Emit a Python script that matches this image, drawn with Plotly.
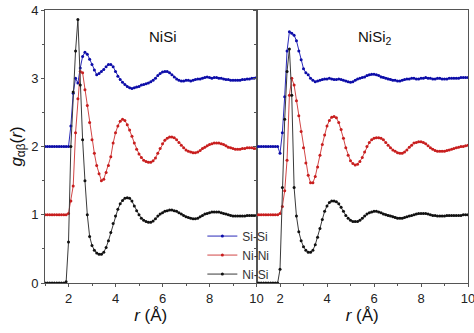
import numpy as np
import plotly.graph_objects as go
from plotly.subplots import make_subplots

# radial grid (Å)
r = np.round(np.arange(1.0, 10.0001, 0.1), 1)

series_names = ["Si-Si", "Ni-Ni", "Ni-Si"]
offsets = [2, 1, 0]

# ---- NiSi ----
nisi_sisi = [0,0,0,0,0,0,0,0,0,0,0,
    0.30,0.78,1.00,0.93,1.15,1.32,1.38,1.35,1.28,1.20,
    1.12,1.05,1.07,1.10,1.13,1.17,1.20,1.20,1.17,1.10,
    1.03,0.98,0.94,0.91,0.88,0.86,0.85,0.86,0.87,0.88,
    0.90,0.91,0.92,0.93,0.95,0.97,1.00,1.04,1.07,1.09,
    1.10,1.10,1.08,1.05,1.02,0.99,0.97,0.96,0.96,0.97,
    0.97,0.96,0.97,0.98,0.99,0.99,1.00,1.01,1.02,1.01,
    1.00,1.01,1.01,1.00,1.00,0.99,0.98,0.98,0.97,0.97,
    0.97,0.97,0.97,0.98,0.98,0.99,0.99,1.00,1.00,1.01]
nisi_nini = [0,0,0,0,0,0,0,0,0,0,0.02,
    0.20,0.42,1.20,1.70,2.10,2.08,1.83,1.60,1.35,1.10,
    0.90,0.72,0.60,0.50,0.52,0.62,0.72,0.85,1.05,1.20,
    1.30,1.37,1.40,1.38,1.32,1.24,1.15,1.05,0.96,0.89,
    0.84,0.80,0.78,0.77,0.77,0.79,0.83,0.90,0.97,1.04,
    1.09,1.12,1.14,1.14,1.13,1.10,1.06,1.02,0.98,0.95,
    0.93,0.92,0.91,0.91,0.92,0.94,0.97,0.99,1.01,1.03,
    1.04,1.05,1.05,1.05,1.04,1.03,1.01,0.99,0.98,0.97,
    0.96,0.96,0.96,0.97,0.97,0.98,0.98,0.98,0.97,0.97]
nisi_nisi = [0,0,0,0,0,0,0,0,0,0.02,0.60,
    2.00,2.80,3.40,3.86,2.90,2.10,1.50,1.00,0.68,0.55,
    0.48,0.44,0.42,0.42,0.45,0.52,0.62,0.74,0.87,0.98,
    1.08,1.16,1.21,1.24,1.25,1.24,1.20,1.13,1.06,1.00,
    0.95,0.92,0.90,0.89,0.89,0.91,0.94,0.98,1.01,1.03,
    1.05,1.06,1.07,1.07,1.06,1.05,1.03,1.01,0.99,0.97,
    0.96,0.95,0.94,0.94,0.95,0.97,0.99,1.01,1.02,1.03,
    1.04,1.04,1.04,1.04,1.03,1.02,1.01,1.00,0.99,0.98,
    0.98,0.98,0.98,0.98,0.98,0.99,0.99,0.99,0.99,0.99]

# ---- NiSi2 ----
nisi2_sisi = [0,0,0,0,0,0,0,0,0,0,-0.10,
    0.20,0.73,1.40,1.68,1.66,1.63,1.55,1.40,1.27,1.14,
    1.08,1.05,1.00,0.97,0.95,0.96,0.97,0.98,0.99,0.99,
    1.00,0.99,0.98,0.98,0.99,0.98,0.97,0.96,0.95,0.94,
    0.95,0.97,0.99,1.00,1.01,1.02,1.04,1.05,1.06,1.06,
    1.05,1.04,1.02,1.01,1.00,0.99,0.98,0.97,0.97,0.96,
    0.96,0.97,0.98,0.99,0.99,1.00,1.00,0.99,0.99,1.00,
    1.00,1.01,1.00,1.00,0.99,0.99,1.00,1.00,0.99,0.99,
    0.99,1.00,1.00,1.00,1.00,1.00,1.01,1.01,1.01,1.01]
nisi2_nini = [0,0,0,0,0,0,0,0,0,0,0.02,
    0.12,0.35,0.80,1.75,2.00,1.90,1.67,1.45,1.22,0.98,
    0.76,0.58,0.47,0.47,0.56,0.70,0.87,1.03,1.17,1.30,
    1.38,1.43,1.44,1.42,1.35,1.25,1.12,0.98,0.87,0.79,
    0.75,0.73,0.74,0.78,0.84,0.92,1.00,1.06,1.10,1.12,
    1.13,1.13,1.12,1.10,1.06,1.02,0.98,0.95,0.93,0.91,
    0.90,0.90,0.92,0.95,0.99,1.02,1.05,1.06,1.07,1.07,
    1.06,1.04,1.01,0.98,0.96,0.94,0.93,0.93,0.93,0.93,
    0.94,0.95,0.96,0.97,0.98,0.99,1.00,1.00,1.01,1.02]
nisi2_nisi = [0,0,0,0,0,0,0,0,0,0,0.20,
    1.40,2.40,3.10,3.43,2.75,1.40,0.98,0.75,0.62,0.53,
    0.48,0.45,0.45,0.48,0.56,0.67,0.80,0.93,1.05,1.13,
    1.18,1.20,1.20,1.19,1.16,1.11,1.05,0.99,0.95,0.92,
    0.90,0.90,0.90,0.92,0.95,0.98,1.01,1.03,1.04,1.05,
    1.05,1.04,1.03,1.01,1.00,0.99,0.98,0.97,0.96,0.95,
    0.95,0.95,0.96,0.97,0.98,0.99,1.00,1.01,1.02,1.02,
    1.02,1.02,1.01,1.00,0.99,0.99,0.98,0.98,0.98,0.98,
    0.99,0.99,0.99,0.99,0.99,0.99,0.99,1.00,1.00,1.00]

panel_titles = ["NiSi", "NiSi<sub>2</sub>"]
panels = [[nisi_sisi, nisi_nini, nisi_nisi], [nisi2_sisi, nisi2_nini, nisi2_nisi]]

marker_colors = ["#0c0ca8", "#c81e1e", "#111111"]
line_colors = ["#2a2ab8", "#d24646", "#3a3a3a"]

FONT = "Liberation Sans, Arial, sans-serif"

fig = make_subplots(rows=1, cols=2, shared_yaxes=True, horizontal_spacing=0)

for p, curves in enumerate(panels):
    for k, g in enumerate(curves):
        y = np.array(g) + offsets[k]
        fig.add_trace(go.Scatter(
            x=r, y=y, mode="lines+markers", name=series_names[k],
            line=dict(color=line_colors[k], width=1),
            marker=dict(color=marker_colors[k], size=3),
            showlegend=(p == 0),
        ), row=1, col=p + 1)

axis_common = dict(
    showline=True, linecolor="#555555", linewidth=1, mirror=True,
    ticks="outside", ticklen=3, tickcolor="#555555",
    showgrid=False, zeroline=False, automargin=False,
    ticklabeloverflow="allow",
    tickfont=dict(family=FONT, size=13, color="#222222"),
)
for c in (1, 2):
    fig.update_xaxes(range=[1, 10], dtick=2,
                     minor=dict(dtick=1, ticks="outside", ticklen=2, tickcolor="#555555"),
                     title=dict(text="<i>r</i> (Å)", font=dict(family=FONT, size=17, color="#111111"),
                                standoff=4),
                     row=1, col=c, **axis_common)
    fig.update_yaxes(range=[0, 4], dtick=1,
                     minor=dict(dtick=0.5, ticks="outside", ticklen=2, tickcolor="#555555"),
                     row=1, col=c, **axis_common)
fig.update_yaxes(title=dict(text="<i>g</i><sub>αβ</sub>(<i>r</i>)",
                            font=dict(family=FONT, size=17, color="#111111"), standoff=4),
                 row=1, col=1)
fig.update_yaxes(showticklabels=False, row=1, col=2)

for p, t in enumerate(panel_titles):
    fig.add_annotation(text=t, xref=f"x{'' if p == 0 else p + 1} domain", yref="paper",
                       x=0.56, y=0.94, showarrow=False,
                       font=dict(family=FONT, size=15, color="#111111"))

fig.update_layout(
    width=474, height=333,
    margin=dict(l=45, r=6, t=10, b=50, autoexpand=False),
    paper_bgcolor="white", plot_bgcolor="white",
    legend=dict(x=0.372, y=0.225, xanchor="left", yanchor="top",
                bgcolor="rgba(0,0,0,0)", itemwidth=30, tracegroupgap=0,
                font=dict(family=FONT, size=12, color="#333333")),
)

fig.write_html("out.html")
